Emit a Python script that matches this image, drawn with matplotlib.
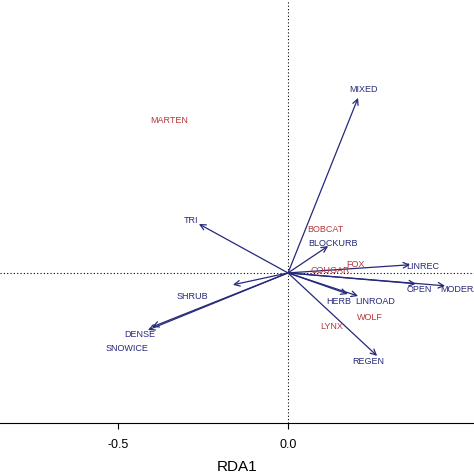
import matplotlib
matplotlib.use("Agg")
import matplotlib.pyplot as plt

env_names = ["MIXED","TRI","BLOCKURB","LINREC","OPEN","MODERATE","","HERB","LINROAD","REGEN","SHRUB","DENSE","SNOWICE"]
env_x = [0.206,-0.262,0.118,0.359,0.376,0.462,0.640,0.176,0.206,0.262,-0.162,-0.400,-0.412]
env_y = [0.515,0.144,0.079,0.024,-0.032,-0.038,-0.142,-0.062,-0.068,-0.244,-0.035,-0.159,-0.168]
lab_x = [0.221,-0.285,0.132,0.397,0.385,0.447,0.70,0.150,0.256,0.236,-0.282,-0.435,-0.474]
lab_y = [0.541,0.153,0.088,0.018,-0.050,-0.050,-0.15,-0.085,-0.085,-0.262,-0.070,-0.180,-0.221]
lab_ha = ["center"]*5 + ["left"] + ["center"]*7

sp_names = ["MARTEN","BOBCAT","FOX","COUGAR","WOLF","LYNX"]
sp_x = [-0.35,0.109,0.197,0.124,0.241,0.129]
sp_y = [0.447,0.129,0.026,0.006,-0.132,-0.159]

navy = "#26287a"
red = "#b5373a"

fig = plt.figure(figsize=(4.74,4.74), dpi=100)
ax = fig.add_axes([0, 0.108, 1, 0.892])
ax.set_xlim(-0.847, 0.547)
ax.set_ylim(-0.441, 0.803)
ax.axhline(0, color="black", ls=(0,(1,2)), lw=0.8)
ax.axvline(0, color="black", ls=(0,(1,2)), lw=0.8)
for n, x, y, lx, ly, ha in zip(env_names, env_x, env_y, lab_x, lab_y, lab_ha):
    ax.annotate("", xy=(x,y), xytext=(0,0),
                arrowprops=dict(arrowstyle="->", color=navy, lw=0.9, shrinkA=0, shrinkB=0))
    if n:
        ax.text(lx, ly, n, color=navy, fontsize=6.5, ha=ha, va="center", family="Liberation Sans")
for n, x, y in zip(sp_names, sp_x, sp_y):
    ax.text(x, y, n, color=red, fontsize=6.5, ha="center", va="center", family="Liberation Sans")
for s in ["left","top","right"]:
    ax.spines[s].set_visible(False)
ax.set_yticks([])
ax.set_xticks([-0.5,0.0])
ax.set_xticklabels(["-0.5","0.0"], family="Liberation Sans", fontsize=9)
ax.tick_params(axis="x", length=4, pad=8)
ax.set_xlabel("RDA1", family="Liberation Sans", fontsize=11, labelpad=6)
fig.savefig("out.png", dpi=100)
